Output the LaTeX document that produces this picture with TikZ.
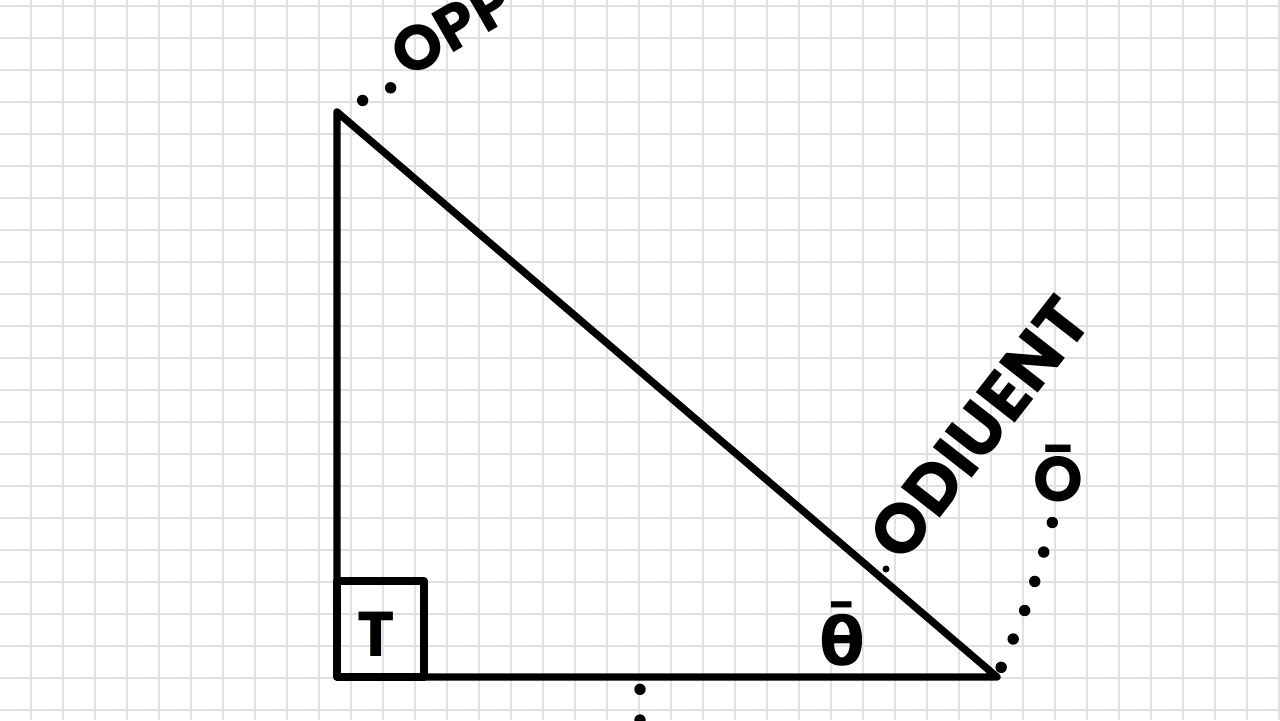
\documentclass[tikz,border=0pt]{standalone}
\usepackage{fontspec}
\setsansfont{Poppins}
\newfontfamily\symfont{DejaVu Sans}
\usetikzlibrary{positioning}
\definecolor{gridline}{RGB}{218,228,232}
\tikzset{
  leg/.style={line width=4.2pt,line join=round,line cap=round},
  dotline/.style={line width=6.5pt,line cap=round,dash pattern=on 0pt off 17.5pt},
  lbl/.style={font=\sffamily\bfseries\fontsize{36}{36}\selectfont,inner sep=0pt}
}

\begin{document}
\begin{tikzpicture}[x=0.02cm,y=-0.02cm]
    \useasboundingbox (0,0) rectangle (1280,720);
    \fill[white] (0,0) rectangle (1280,720);
    % paper grid
    \foreach \x in {31,63,...,1279}
    \draw[gridline,line width=0.7pt] (\x,0) -- (\x,720);
    \foreach \y in {6,38,...,719}
    \draw[gridline,line width=0.7pt] (0,\y) -- (1280,\y);
    % triangle
    \coordinate (top) at (337,112);
    \coordinate (corner) at (337,677);
    \coordinate (tip) at (997,677);
    \coordinate (sq) at (424,581);
    \draw[leg] (top) -- (corner) -- (tip) -- cycle;
    \draw[leg] (corner) rectangle (sq);
    \node[lbl] (tmark) at (376,634) {T};
    \node[lbl,font=\symfont\bfseries\fontsize{38}{38}\selectfont] (theta) at (842,634) {\={θ}};
    % labels
    \node[lbl,rotate=30,anchor=south west] (opp) at (408,80) {OPP};
    \node[lbl,rotate=52,anchor=south west,font=\sffamily\bfseries\fontsize{40}{40}\selectfont] (adj) at (904,566) {ODIUENT};
    \node[lbl] (obar) at (1058,474) {\=O};
    \fill (886,569) circle (3.5);
    % dotted leaders
    \draw[dotline,dash phase=-16pt] (top) -- (opp.south west);
    \draw[dotline,dash phase=-6pt] (tip) .. controls (1030,600) .. (obar.south);
    \coordinate (foot) at (640,677);
    \coordinate (below) at (640,740);
    \draw[dotline,dash phase=-7pt] (foot) -- (below);
\end{tikzpicture}
\end{document}
